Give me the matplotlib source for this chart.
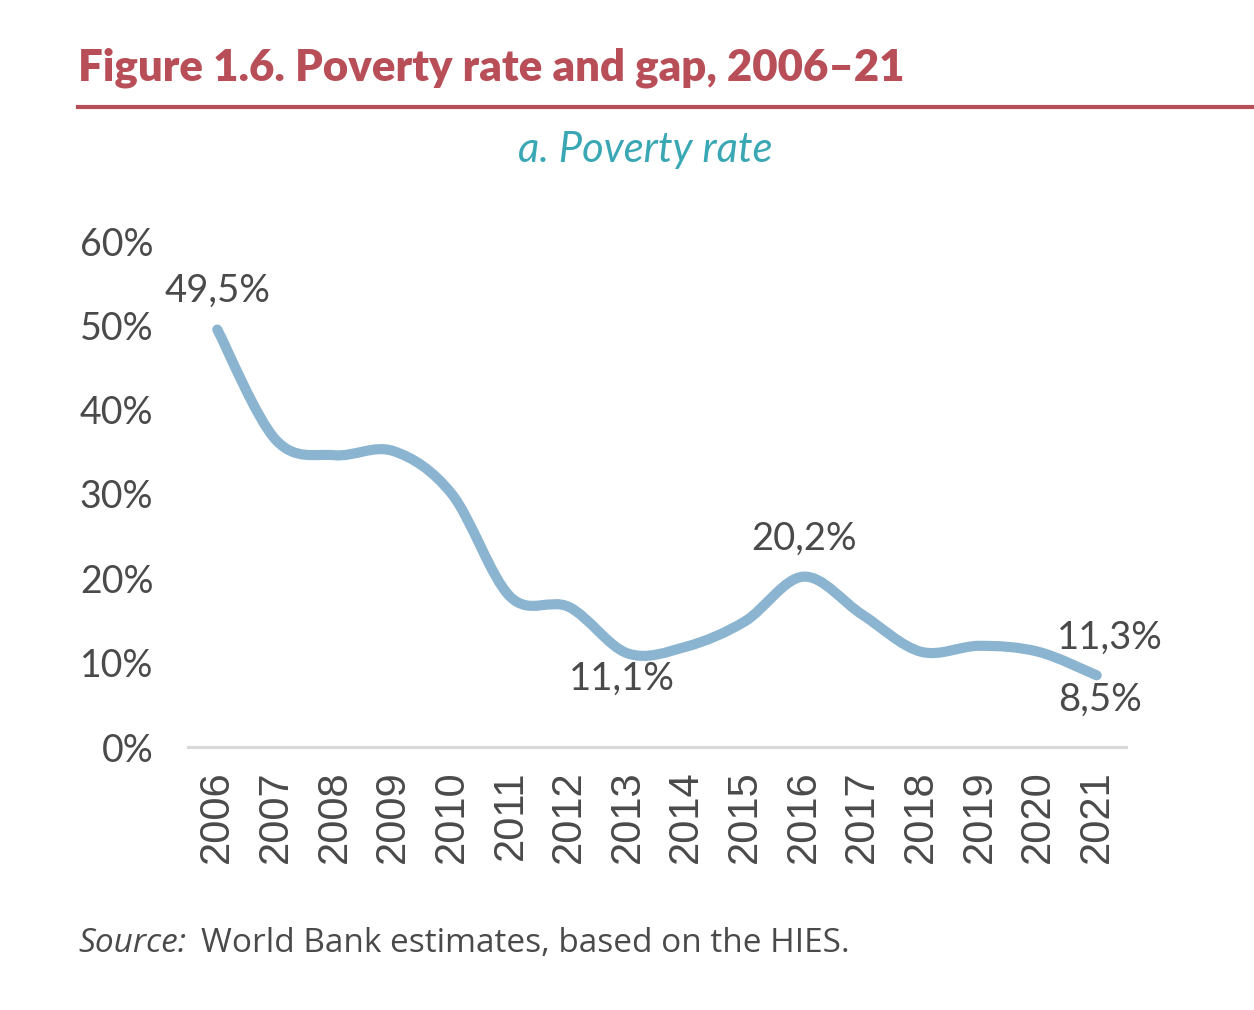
import numpy as np
import matplotlib
matplotlib.use("Agg")
import matplotlib.pyplot as plt
from matplotlib.path import Path
from matplotlib.patches import PathPatch
from matplotlib.ticker import FuncFormatter

years = ["2006", "2007", "2008", "2009", "2010", "2011", "2012", "2013",
         "2014", "2015", "2016", "2017", "2018", "2019", "2020", "2021"]
rate = [49.5, 36.4, 34.6, 35.1, 30.0, 17.8, 16.6, 11.1,
        11.9, 14.9, 20.2, 15.7, 11.3, 12.0, 11.3, 8.5]
yticks = [0, 10, 20, 30, 40, 50, 60]

# labelled points: (index, text, dx in categories, dy in %)
labels = [(0, "49,5%", 0.0, 4.6), (7, "11,1%", -0.1, -3.0), (10, "20,2%", 0.0, 4.5),
          (15, "11,3%", 0.22, 4.5), (15, "8,5%", 0.05, -2.9)]

RED, TEAL, LINE, INK, AXIS = "#b84f58", "#3aa7b4", "#8ab4d0", "#4a4a4a", "#d9d9d9"

fig = plt.figure(figsize=(12.54, 10.10), dpi=100)
W, H = 1254, 1010
ax = fig.add_axes([188 / W, 1 - 747 / H, (1126 - 188) / W, (747 - 241) / H])

# smoothed line (Catmull-Rom as cubic Bezier segments, like Excel's smooth line)
x = np.arange(len(years), dtype=float)
y = np.array(rate)
verts = [(x[0], y[0])]
codes = [Path.MOVETO]
for i in range(len(x) - 1):
    p0 = (x[i - 1], y[i - 1]) if i > 0 else (x[i], y[i])
    p1, p2 = (x[i], y[i]), (x[i + 1], y[i + 1])
    p3 = (x[i + 2], y[i + 2]) if i + 2 < len(x) else p2
    c1 = (p1[0] + (p2[0] - p0[0]) / 6, p1[1] + (p2[1] - p0[1]) / 6)
    c2 = (p2[0] - (p3[0] - p1[0]) / 6, p2[1] - (p3[1] - p1[1]) / 6)
    verts += [c1, c2, p2]
    codes += [Path.CURVE4] * 3
ax.add_patch(PathPatch(Path(verts, codes), facecolor="none", edgecolor=LINE,
                       lw=7.3, capstyle="round", joinstyle="round", zorder=3))

for i, txt, dx, dy in labels:
    ax.text(x[i] + dx, y[i] + dy, txt, ha="center", va="center", fontsize=27.5,
            color=INK, family="Lato")

ax.set_xlim(-0.5, len(years) - 0.5)
ax.set_ylim(0, 60)
ax.set_xticks(x)
ax.set_xticklabels(years, rotation=90, fontsize=30, color=INK, family="Liberation Sans")
ax.set_yticks(yticks)
ax.yaxis.set_major_formatter(FuncFormatter(lambda v, _: f"{v:.0f}%"))
for t in ax.get_yticklabels():
    t.set_family("Lato")
ax.tick_params(axis="y", labelsize=27, labelcolor=INK, length=0, pad=25)
ax.tick_params(axis="x", length=0, pad=17)
for s in ("top", "left", "right"):
    ax.spines[s].set_visible(False)
ax.spines["bottom"].set_color(AXIS)
ax.spines["bottom"].set_linewidth(2.2)

fig.text(78 / W, 1 - 68 / H, "Figure 1.6. Poverty rate and gap, 2006–21", fontsize=31.5,
         fontweight="heavy", color=RED, family="Lato", ha="left", va="center")
fig.add_artist(plt.Line2D([78 / W, 1], [1 - 107 / H] * 2, color=RED, lw=3))
fig.text(645 / W, 1 - 150 / H, "a. Poverty rate", fontsize=30, style="italic",
         color=TEAL, family="Lato", ha="center", va="center")
fig.text(78 / W, 1 - 943 / H, "Source:", fontsize=24, style="italic", color=INK,
         family="Open Sans", ha="left", va="center")
fig.text(201 / W, 1 - 943 / H, "World Bank estimates, based on the HIES.", fontsize=24,
         color=INK, family="Open Sans", ha="left", va="center")

fig.savefig("out.png", dpi=100)
